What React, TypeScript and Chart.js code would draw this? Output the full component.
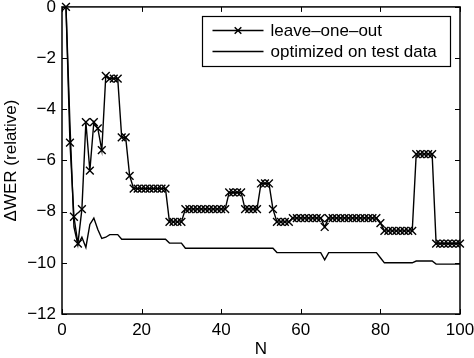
import React, { useEffect, useRef } from "react";
import { Chart, registerables } from "chart.js";

Chart.register(...registerables);

const N = [
  1, 2, 3, 4, 5, 6, 7, 8, 9, 10, 11, 12, 13, 14, 15, 16, 17, 18, 19, 20,
  21, 22, 23, 24, 25, 26, 27, 28, 29, 30, 31, 32, 33, 34, 35, 36, 37, 38, 39, 40,
  41, 42, 43, 44, 45, 46, 47, 48, 49, 50, 51, 52, 53, 54, 55, 56, 57, 58, 59, 60,
  61, 62, 63, 64, 65, 66, 67, 68, 69, 70, 71, 72, 73, 74, 75, 76, 77, 78, 79, 80,
  81, 82, 83, 84, 85, 86, 87, 88, 89, 90, 91, 92, 93, 94, 95, 96, 97, 98, 99, 100,
];

const leaveOneOut = [
  0, -5.3, -8.2, -9.25, -7.9, -4.5, -6.4, -4.5, -4.75, -5.6,
  -2.7, -2.8, -2.8, -2.8, -5.1, -5.1, -6.6, -7.1, -7.1, -7.1,
  -7.1, -7.1, -7.1, -7.1, -7.1, -7.1, -8.4, -8.4, -8.4, -8.4,
  -7.9, -7.9, -7.9, -7.9, -7.9, -7.9, -7.9, -7.9, -7.9, -7.9,
  -7.9, -7.25, -7.25, -7.25, -7.25, -7.9, -7.9, -7.9, -7.9, -6.9,
  -6.9, -6.9, -7.9, -8.4, -8.4, -8.4, -8.4, -8.25, -8.25, -8.25,
  -8.25, -8.25, -8.25, -8.25, -8.25, -8.6, -8.25, -8.25, -8.25, -8.25,
  -8.25, -8.25, -8.25, -8.25, -8.25, -8.25, -8.25, -8.25, -8.25, -8.45,
  -8.75, -8.75, -8.75, -8.75, -8.75, -8.75, -8.75, -8.75, -5.75, -5.75,
  -5.75, -5.75, -5.75, -9.25, -9.25, -9.25, -9.25, -9.25, -9.25, -9.25,
];

const optimizedOnTest = [
  0, -4.6, -8.6, -9.3, -9.0, -9.4, -8.5, -8.25, -8.7, -9.05,
  -9.0, -8.9, -8.9, -8.9, -9.08, -9.08, -9.08, -9.08, -9.08, -9.08,
  -9.08, -9.08, -9.08, -9.08, -9.08, -9.08, -9.23, -9.23, -9.23, -9.23,
  -9.43, -9.43, -9.43, -9.43, -9.43, -9.43, -9.43, -9.43, -9.43, -9.43,
  -9.43, -9.43, -9.43, -9.43, -9.43, -9.43, -9.43, -9.43, -9.43, -9.43,
  -9.43, -9.43, -9.43, -9.6, -9.6, -9.6, -9.6, -9.6, -9.6, -9.6,
  -9.6, -9.6, -9.6, -9.6, -9.6, -9.88, -9.6, -9.6, -9.6, -9.6,
  -9.6, -9.6, -9.6, -9.6, -9.6, -9.6, -9.6, -9.6, -9.6, -9.8,
  -10.0, -10.0, -10.0, -10.0, -10.0, -10.0, -10.0, -10.0, -9.93, -9.93,
  -9.93, -9.93, -9.93, -10.05, -10.05, -10.05, -10.05, -10.05, -10.05, -10.05,
];

const seriesLabels = ["leave\u2013one\u2013out", "optimized on test data"];
const xTicks = [0, 20, 40, 60, 80, 100];
const yTicks = [0, -2, -4, -6, -8, -10, -12];
const xTitle = "N";
const yTitle = "\u0394WER (relative)";

const FONT = '"Liberation Sans", Arial, Helvetica, sans-serif';

const framePlugin = {
  id: "matlabFrame",
  afterDatasetsDraw(chart: any) {
    const { ctx, chartArea: a, scales } = chart;
    const xs = scales.x;
    const ys = scales.y;
    ctx.save();
    ctx.strokeStyle = "#000";
    ctx.lineWidth = 1.5;
    ctx.strokeRect(a.left, a.top, a.right - a.left, a.bottom - a.top);
    ctx.lineWidth = 1;
    const tl = 5;
    ctx.beginPath();
    for (const t of xTicks) {
      const px = Math.round(xs.getPixelForValue(t)) + 0.5;
      ctx.moveTo(px, a.bottom);
      ctx.lineTo(px, a.bottom - tl);
      ctx.moveTo(px, a.top);
      ctx.lineTo(px, a.top + tl);
    }
    for (const t of yTicks) {
      const py = Math.round(ys.getPixelForValue(t)) + 0.5;
      ctx.moveTo(a.left, py);
      ctx.lineTo(a.left + tl, py);
      ctx.moveTo(a.right, py);
      ctx.lineTo(a.right - tl, py);
    }
    ctx.stroke();

    // legend
    const ds = chart.data.datasets;
    const bw = 248;
    const bh = 50;
    const bx = Math.round(a.right - 258) + 0.5;
    const by = Math.round(a.top + 9) + 0.5;
    ctx.fillStyle = "#fff";
    ctx.fillRect(bx, by, bw, bh);
    ctx.lineWidth = 1.2;
    ctx.strokeRect(bx, by, bw, bh);
    ctx.font = `17px ${FONT}`;
    ctx.textBaseline = "middle";
    ctx.textAlign = "left";
    const rows = [by + 14, by + 35];
    ds.forEach((d: any, i: number) => {
      const ry = rows[i];
      ctx.strokeStyle = "#000";
      ctx.lineWidth = 1.3;
      ctx.beginPath();
      ctx.moveTo(bx + 10, ry);
      ctx.lineTo(bx + 61, ry);
      ctx.stroke();
      if (d.pointRadius > 0) {
        const cx = bx + 35.5;
        const h = 3.3;
        ctx.lineWidth = 1.5;
        ctx.beginPath();
        ctx.moveTo(cx - h, ry - h);
        ctx.lineTo(cx + h, ry + h);
        ctx.moveTo(cx - h, ry + h);
        ctx.lineTo(cx + h, ry - h);
        ctx.stroke();
      }
      ctx.fillStyle = "#000";
      ctx.fillText(d.label, bx + 68, ry + 1);
    });
    ctx.restore();
  },
};

export default function App() {
  const ref = useRef<HTMLCanvasElement | null>(null);

  useEffect(() => {
    if (!ref.current) return;
    const chart = new Chart(ref.current, {
      type: "line",
      data: {
        datasets: [
          {
            label: seriesLabels[0],
            data: N.map((n, i) => ({ x: n, y: leaveOneOut[i] })),
            borderColor: "#000",
            borderWidth: 1.4,
            pointStyle: "crossRot",
            pointRadius: 5.5,
            pointBorderWidth: 1.4,
            pointBorderColor: "#000",
            pointBackgroundColor: "rgba(0,0,0,0)",
            tension: 0,
            clip: false as any,
          },
          {
            label: seriesLabels[1],
            data: N.map((n, i) => ({ x: n, y: optimizedOnTest[i] })),
            borderColor: "#000",
            borderWidth: 1.4,
            pointRadius: 0,
            tension: 0,
          },
        ],
      },
      options: {
        animation: false,
        responsive: false,
        devicePixelRatio: 1,
        layout: { padding: { top: 6, right: 14, left: 0, bottom: 0 } },
        plugins: {
          legend: { display: false },
          tooltip: { enabled: false },
        },
        scales: {
          x: {
            type: "linear",
            min: 0,
            max: 100,
            afterBuildTicks: (s: any) => {
              s.ticks = xTicks.map((v) => ({ value: v }));
            },
            afterFit: (s: any) => {
              s.height = 44;
              s.paddingLeft = 0;
              s.paddingRight = 0;
            },
            grid: { display: false, drawTicks: false },
            border: { display: false },
            ticks: {
              color: "#000",
              padding: 6,
              maxRotation: 0,
              autoSkip: false,
              font: { family: FONT, size: 17 },
              callback: (v: any) => String(v).replace("-", "\u2212"),
            },
            title: {
              display: true,
              text: xTitle,
              color: "#000",
              font: { family: FONT, size: 17, lineHeight: 1 },
              padding: { top: 0, bottom: 0 },
            },
          },
          y: {
            type: "linear",
            min: -12,
            max: 0,
            afterBuildTicks: (s: any) => {
              s.ticks = yTicks.map((v) => ({ value: v }));
            },
            afterFit: (s: any) => {
              s.width = 62;
              s.paddingTop = 0;
              s.paddingBottom = 0;
            },
            grid: { display: false, drawTicks: false },
            border: { display: false },
            ticks: {
              color: "#000",
              padding: 6,
              autoSkip: false,
              font: { family: FONT, size: 17 },
              callback: (v: any) => String(v).replace("-", "\u2212"),
            },
            title: {
              display: true,
              text: yTitle,
              color: "#000",
              font: { family: FONT, size: 17, lineHeight: 1 },
              padding: { top: 3, bottom: 0 },
            },
          },
        },
      },
      plugins: [framePlugin],
    });
    return () => chart.destroy();
  }, []);

  return (
    <div style={{ position: "absolute", left: 0, top: 0, width: 474, height: 358, background: "#fff" }}>
      <canvas ref={ref} width={474} height={358} style={{ display: "block", width: 474, height: 358 }} />
    </div>
  );
}
